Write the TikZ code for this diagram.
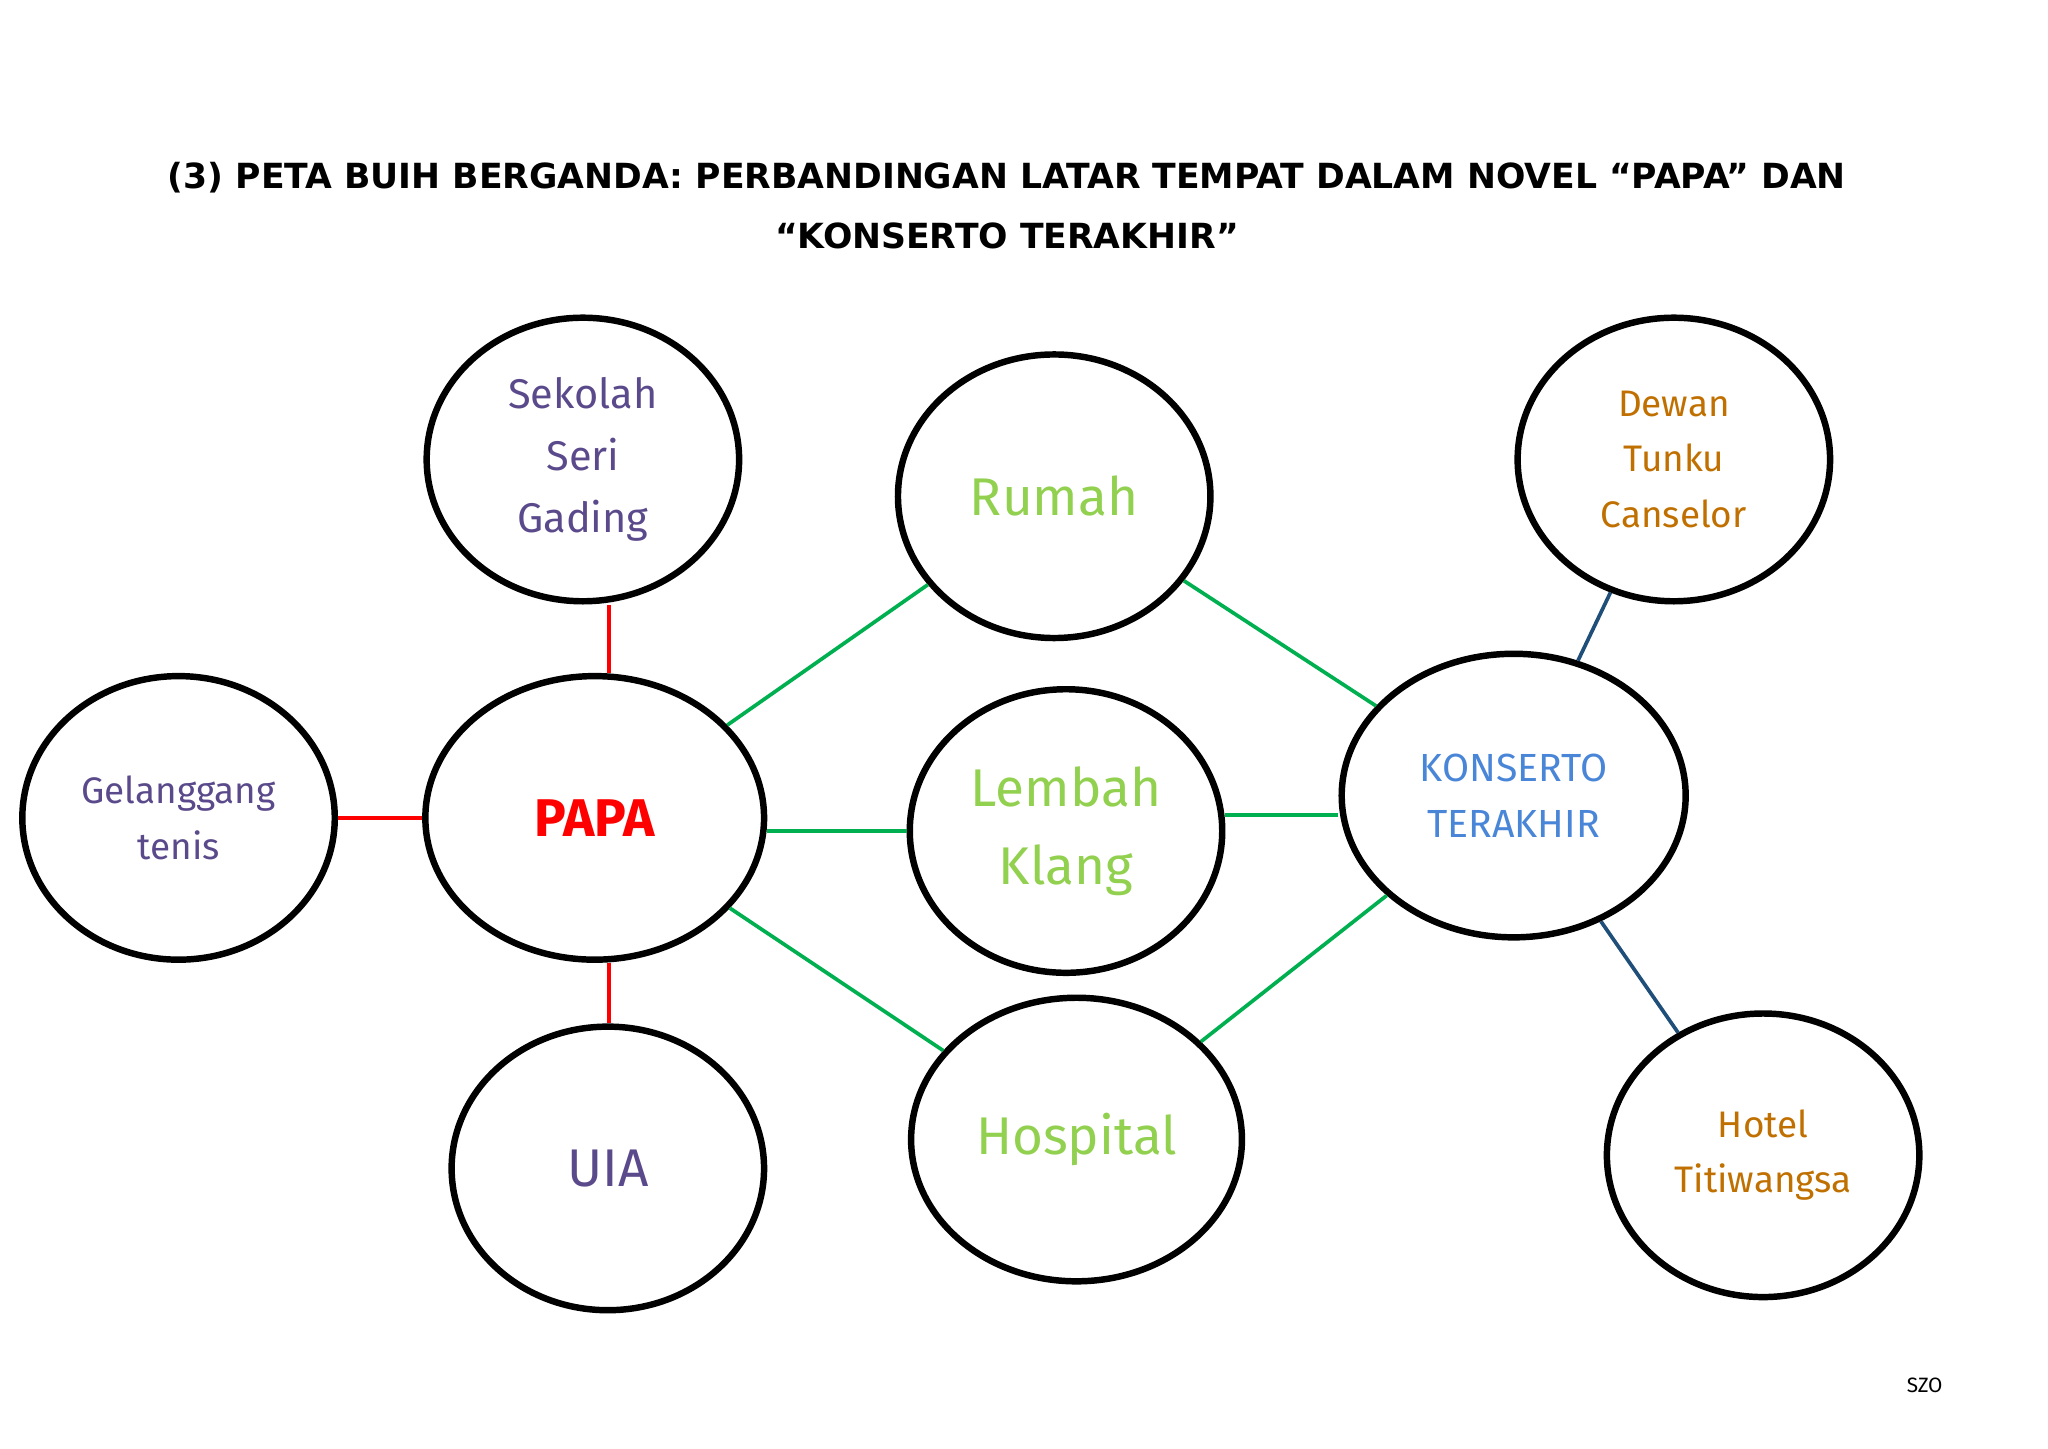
\documentclass[tikz,border=0pt]{standalone}
\usepackage{fontspec}
\setmainfont{Fira Sans}
\newfontfamily\titlefont{DejaVu Sans}
\usetikzlibrary{shapes.geometric}
\definecolor{pur}{HTML}{5B4A8B}
\definecolor{grn}{HTML}{92D050}
\definecolor{org}{HTML}{C07000}
\definecolor{blu}{HTML}{4A86D8}
\definecolor{lgrn}{HTML}{00B050}
\definecolor{dblu}{HTML}{1F4E79}
\tikzset{bub/.style={ellipse,draw,line width=2.8pt,minimum width=4.76cm,minimum height=4.32cm,align=center,inner sep=0pt},
rl/.style={red,line width=1.6pt},gl/.style={lgrn,line width=1.6pt},bl/.style={dblu,line width=1.6pt}}
\begin{document}
\begin{tikzpicture}
\useasboundingbox (0,0) rectangle (31.2,-22.06);
\node[font=\titlefont\fontsize{15}{20}\selectfont\bfseries] (t1) at (15.34,-2.7) {(3) PETA BUIH BERGANDA: PERBANDINGAN LATAR TEMPAT DALAM NOVEL “PAPA” DAN};
\node[font=\titlefont\fontsize{15}{20}\selectfont\bfseries] (t2) at (15.34,-3.6) {“KONSERTO TERAKHIR”};
\node[bub,text=pur,font=\fontsize{18}{27}\selectfont] (sek) at (8.88,-7.0) {Sekolah\\Seri\\Gading};
\node[bub,text=grn,font=\fontsize{23}{30}\selectfont] (rum) at (16.06,-7.56) {Rumah};
\node[bub,text=org,font=\fontsize{16}{24}\selectfont] (dew) at (25.5,-7.0) {Dewan\\Tunku\\Canselor};
\node[bub,text=pur,font=\fontsize{16}{24}\selectfont] (gel) at (2.72,-12.46) {Gelanggang\\tenis};
\node[bub,minimum width=5.16cm,text=red,font=\fontsize{23}{30}\selectfont\bfseries] (papa) at (9.06,-12.46) {PAPA};
\node[bub,text=grn,font=\fontsize{23}{34}\selectfont] (lem) at (16.24,-12.66) {Lembah\\Klang};
\node[bub,minimum width=5.24cm,text=blu,font=\fontsize{17}{24}\selectfont] (kon) at (23.06,-12.12) {KONSERTO\\TERAKHIR};
\node[bub,text=pur,font=\fontsize{23}{30}\selectfont] (uia) at (9.26,-17.8) {UIA};
\node[bub,minimum width=5.04cm,text=grn,font=\fontsize{23}{30}\selectfont] (hos) at (16.4,-17.36) {Hospital};
\node[bub,text=org,font=\fontsize{16}{24}\selectfont] (hot) at (26.86,-17.6) {Hotel\\Titiwangsa};
\node[font=\fontsize{9}{11}\selectfont] (szo) at (29.32,-21.1) {SZO};
\draw[rl] ([xshift=2.2mm]papa.north) -- ([xshift=2.2mm]papa.north |- sek.south);
\draw[rl] (papa.west) -- (gel.east);
\draw[rl] ([xshift=2.2mm]papa.south) -- ([xshift=2.2mm]papa.south |- uia.north);
\draw[gl] (papa) -- (rum);
\draw[gl] ([yshift=-2mm]papa.east) -- ([yshift=-2mm]papa.east -| lem.west);
\draw[gl] (papa) -- (hos);
\draw[gl] (rum) -- (kon);
\draw[gl] ([yshift=-3mm]kon.west) -- ([yshift=-3mm]kon.west -| lem.east);
\draw[gl] (hos) -- (kon);
\draw[bl] (kon) -- (dew);
\draw[bl] (kon) -- (hot);
\end{tikzpicture}
\end{document}
